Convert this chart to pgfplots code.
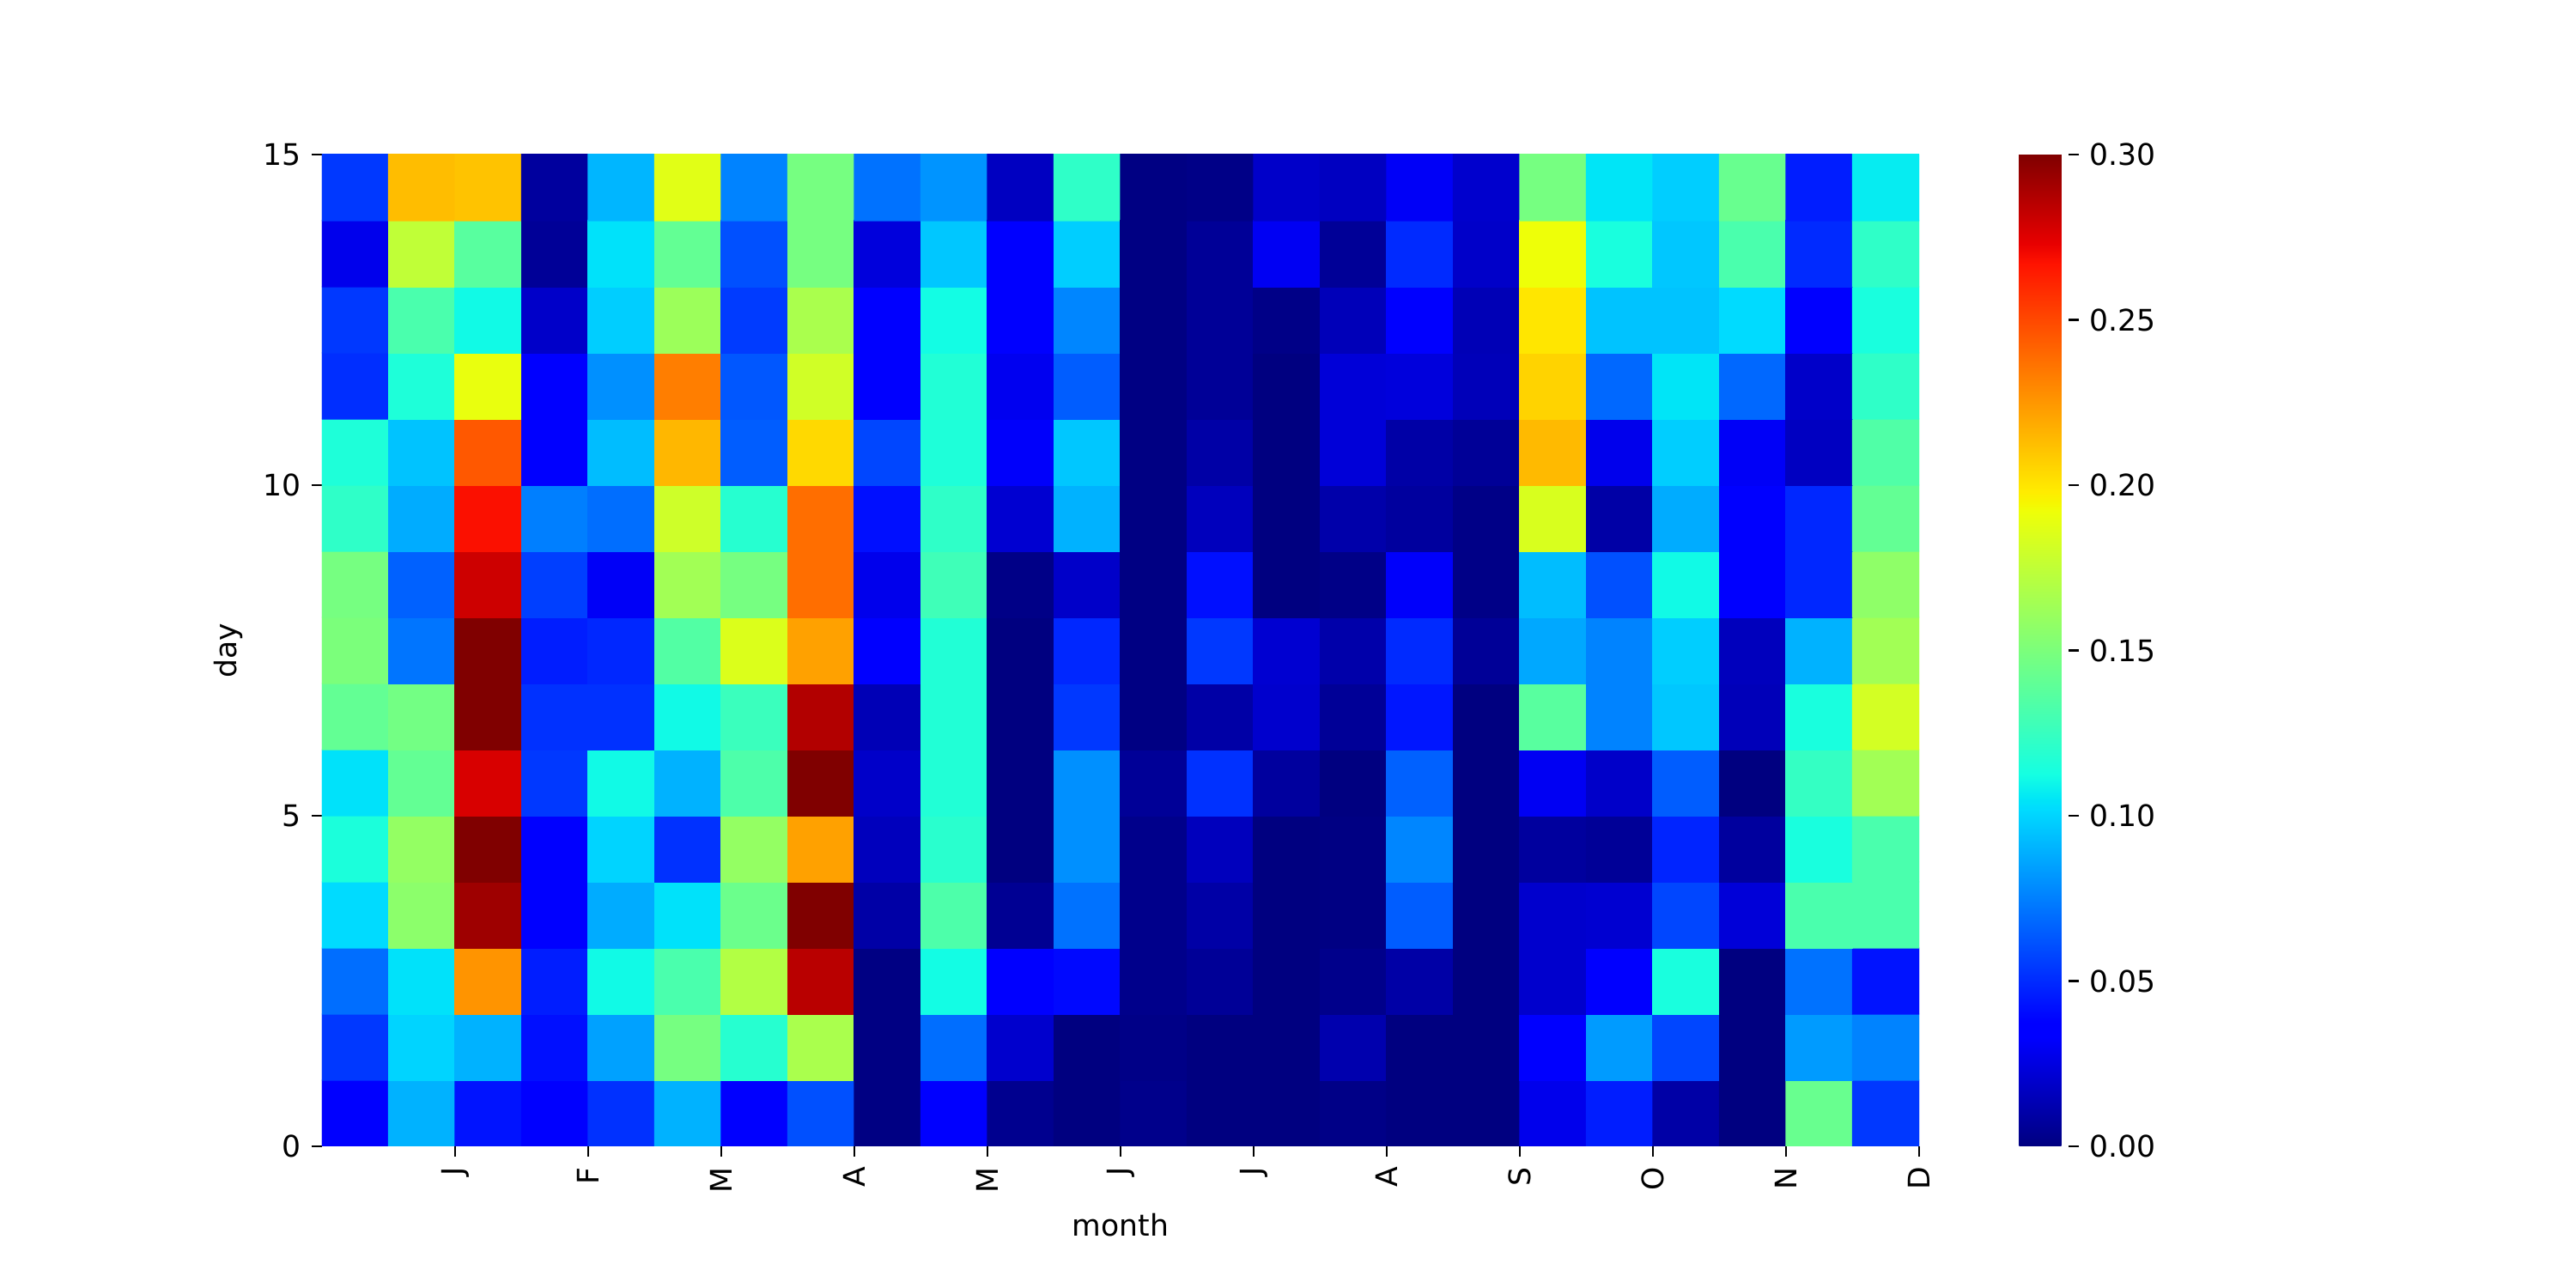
\documentclass[border=0pt]{standalone}
\usepackage{fontspec}
\setmainfont{DejaVu Sans}
\usepackage{pgfplots}
\usepackage{pgfplotstable}
\pgfplotsset{compat=1.18}
\pgfplotsset{/pgf/number format/assume math mode=true}

% matplotlib's jet
\pgfplotsset{colormap={mpljet}{rgb(0pt)=(0,0,0.5) rgb(11pt)=(0,0,1) rgb(12.5pt)=(0,0,1)
  rgb(34pt)=(0,0.86,1) rgb(35pt)=(0,0.9,0.968) rgb(37.5pt)=(0.081,1,0.887)
  rgb(64pt)=(0.935,1,0.032) rgb(65pt)=(0.968,0.963,0) rgb(66pt)=(1,0.926,0)
  rgb(89pt)=(1,0.074,0) rgb(91pt)=(0.909,0,0) rgb(100pt)=(0.5,0,0)}}

% one line per day (0 at bottom), 24 half-month columns
\pgfplotstableread[row sep=\\]{
v\\
0.036\\ 0.090\\ 0.043\\ 0.035\\ 0.052\\ 0.090\\ 0.036\\ 0.061\\ 0.001\\ 0.036\\ 0.004\\ 0.000\\ 0.003\\ 0.000\\ 0.000\\ 0.002\\ 0.000\\ 0.000\\ 0.028\\ 0.046\\ 0.010\\ 0.000\\ 0.143\\ 0.054\\
0.054\\ 0.100\\ 0.090\\ 0.042\\ 0.085\\ 0.148\\ 0.119\\ 0.167\\ 0.001\\ 0.070\\ 0.020\\ 0.000\\ 0.002\\ 0.000\\ 0.000\\ 0.012\\ 0.000\\ 0.000\\ 0.036\\ 0.083\\ 0.058\\ 0.000\\ 0.083\\ 0.076\\
0.070\\ 0.104\\ 0.226\\ 0.046\\ 0.111\\ 0.132\\ 0.170\\ 0.285\\ 0.001\\ 0.112\\ 0.034\\ 0.040\\ 0.003\\ 0.006\\ 0.000\\ 0.003\\ 0.010\\ 0.000\\ 0.020\\ 0.035\\ 0.114\\ 0.000\\ 0.071\\ 0.043\\
0.102\\ 0.156\\ 0.292\\ 0.035\\ 0.088\\ 0.104\\ 0.144\\ 0.300\\ 0.010\\ 0.133\\ 0.005\\ 0.071\\ 0.003\\ 0.010\\ 0.000\\ 0.001\\ 0.065\\ 0.000\\ 0.020\\ 0.021\\ 0.058\\ 0.023\\ 0.132\\ 0.132\\
0.115\\ 0.159\\ 0.300\\ 0.035\\ 0.100\\ 0.052\\ 0.159\\ 0.222\\ 0.016\\ 0.120\\ 0.000\\ 0.080\\ 0.003\\ 0.016\\ 0.000\\ 0.001\\ 0.077\\ 0.000\\ 0.008\\ 0.006\\ 0.048\\ 0.008\\ 0.114\\ 0.132\\
0.104\\ 0.141\\ 0.277\\ 0.054\\ 0.111\\ 0.090\\ 0.133\\ 0.300\\ 0.019\\ 0.117\\ 0.000\\ 0.080\\ 0.006\\ 0.052\\ 0.008\\ 0.000\\ 0.066\\ 0.000\\ 0.030\\ 0.019\\ 0.065\\ 0.000\\ 0.124\\ 0.164\\
0.141\\ 0.147\\ 0.300\\ 0.052\\ 0.052\\ 0.111\\ 0.126\\ 0.287\\ 0.014\\ 0.117\\ 0.000\\ 0.054\\ 0.001\\ 0.010\\ 0.020\\ 0.006\\ 0.044\\ 0.000\\ 0.137\\ 0.076\\ 0.096\\ 0.015\\ 0.114\\ 0.182\\
0.150\\ 0.072\\ 0.300\\ 0.046\\ 0.049\\ 0.135\\ 0.185\\ 0.222\\ 0.036\\ 0.117\\ 0.000\\ 0.049\\ 0.001\\ 0.054\\ 0.021\\ 0.011\\ 0.050\\ 0.006\\ 0.087\\ 0.076\\ 0.098\\ 0.016\\ 0.090\\ 0.164\\
0.148\\ 0.066\\ 0.280\\ 0.056\\ 0.031\\ 0.164\\ 0.148\\ 0.238\\ 0.028\\ 0.128\\ 0.002\\ 0.019\\ 0.001\\ 0.042\\ 0.000\\ 0.002\\ 0.032\\ 0.002\\ 0.093\\ 0.061\\ 0.111\\ 0.033\\ 0.049\\ 0.157\\
0.122\\ 0.088\\ 0.268\\ 0.075\\ 0.070\\ 0.180\\ 0.119\\ 0.238\\ 0.042\\ 0.122\\ 0.021\\ 0.090\\ 0.001\\ 0.016\\ 0.000\\ 0.011\\ 0.008\\ 0.002\\ 0.184\\ 0.010\\ 0.088\\ 0.033\\ 0.049\\ 0.141\\
0.116\\ 0.095\\ 0.245\\ 0.036\\ 0.093\\ 0.215\\ 0.065\\ 0.204\\ 0.058\\ 0.116\\ 0.032\\ 0.096\\ 0.001\\ 0.010\\ 0.000\\ 0.023\\ 0.010\\ 0.006\\ 0.214\\ 0.028\\ 0.098\\ 0.031\\ 0.017\\ 0.134\\
0.051\\ 0.116\\ 0.190\\ 0.035\\ 0.080\\ 0.233\\ 0.063\\ 0.181\\ 0.033\\ 0.117\\ 0.029\\ 0.065\\ 0.001\\ 0.006\\ 0.000\\ 0.023\\ 0.024\\ 0.015\\ 0.206\\ 0.068\\ 0.105\\ 0.068\\ 0.019\\ 0.122\\
0.054\\ 0.132\\ 0.111\\ 0.019\\ 0.098\\ 0.162\\ 0.055\\ 0.167\\ 0.033\\ 0.112\\ 0.034\\ 0.077\\ 0.001\\ 0.006\\ 0.002\\ 0.015\\ 0.036\\ 0.014\\ 0.200\\ 0.095\\ 0.095\\ 0.102\\ 0.033\\ 0.114\\
0.028\\ 0.175\\ 0.137\\ 0.006\\ 0.104\\ 0.141\\ 0.061\\ 0.148\\ 0.024\\ 0.096\\ 0.035\\ 0.098\\ 0.001\\ 0.006\\ 0.030\\ 0.006\\ 0.050\\ 0.019\\ 0.192\\ 0.114\\ 0.096\\ 0.132\\ 0.050\\ 0.122\\
0.054\\ 0.213\\ 0.211\\ 0.008\\ 0.091\\ 0.187\\ 0.076\\ 0.148\\ 0.071\\ 0.081\\ 0.017\\ 0.122\\ 0.001\\ 0.002\\ 0.019\\ 0.017\\ 0.031\\ 0.020\\ 0.148\\ 0.105\\ 0.098\\ 0.143\\ 0.046\\ 0.107\\
}\heat

\begin{document}
\begin{tikzpicture}
\useasboundingbox (0,0) rectangle (867.24pt,433.62pt);
\begin{axis}[
  at={(108.4pt,47.7pt)}, anchor=south west,
  scale only axis,
  width=537.7pt, height=333.9pt,
  xmin=0, xmax=24, ymin=0, ymax=15,
  axis line style={draw=none},
  tick align=outside,
  xtick pos=bottom, ytick pos=left,
  major tick length=3.5pt,
  tick style={black, line width=0.8pt},
  xtick={2,4,...,24},
  xticklabels={J,F,M,A,M,J,J,A,S,O,N,D},
  xticklabel style={rotate=90, anchor=east},
  ytick={0,5,10,15},
  xlabel={month},
  ylabel={day},
  colormap name=mpljet,
  point meta min=0, point meta max=0.3,
  colorbar,
  colorbar style={
    at={(parent axis.north east)}, anchor=north west, xshift=25.1pt,
    scale only axis, width=16.7pt, height=333.9pt,
    xmin=0, xmax=1, enlargelimits=false,
    axis line style={draw=none},
    ytick={0,0.05,...,0.3},
    ytick pos=right, tick align=outside,
    major tick length=3.5pt,
    tick style={black, line width=0.8pt},
    yticklabel style={/pgf/number format/fixed, /pgf/number format/fixed zerofill, /pgf/number format/precision=2},
  },
]
\addplot[matrix plot*, mesh/cols=24, point meta=explicit]
  table[x index=0, y index=0,
        x expr={\coordindex-24*floor((\coordindex+0.5)/24)+0.5},
        y expr={floor((\coordindex+0.5)/24)+0.5}, meta=v] {\heat};
\end{axis}
\end{tikzpicture}
\end{document}
